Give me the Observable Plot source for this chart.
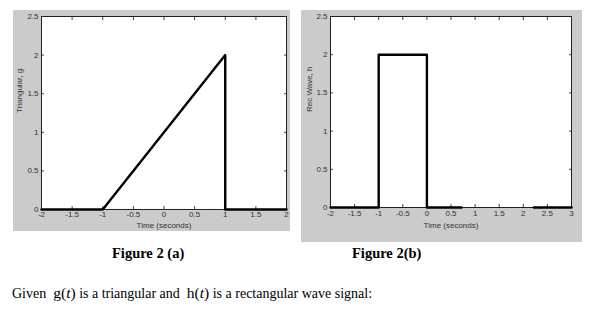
<!DOCTYPE html>
<html>
<head>
<meta charset="utf-8">
<script src="https://cdn.jsdelivr.net/npm/d3@7"></script>
<script src="https://cdn.jsdelivr.net/npm/@observablehq/plot@0.6"></script>
<style>
  html, body { margin: 0; padding: 0; background: white; width: 593px; height: 309px; overflow: hidden; }
  #a { position: absolute; left: 13px; top: 10px; }
  #b { position: absolute; left: 301px; top: 10px; }
  .cap { position: absolute; font-family: "Liberation Serif", "Times New Roman", serif; font-weight: bold; font-size: 14.5px; white-space: nowrap; }
  #txt { position: absolute; left: 12px; top: 284px; font-family: "Liberation Serif", "Times New Roman", serif; font-size: 14px; white-space: nowrap; }
  .m { font-size: 15.5px; }
</style>
</head>
<body>
<div id="a"></div>
<div id="b"></div>
<div class="cap" style="left:112px; top:245px;">Figure 2 (a)</div>
<div class="cap" style="left:352px; top:245px;">Figure 2(b)</div>
<div id="txt">Given&nbsp; <span class="m">g(<i>t</i>)</span> is a triangular and&nbsp; <span class="m">h(<i>t</i>)</span> is a rectangular wave signal:</div>
<script>
// Figure 2(a): triangular g(t)
const gT = [-2, -1, 1, 1, 2];
const gV = [0, 0, 2, 0, 0];
// Figure 2(b): rectangular h(t), drawn as two segments
const hT = [-2, -1, -1, 0, 0, 0.72, 2.22, 3];
const hV = [0, 0, 2, 2, 0, 0, 0, 0];
const hSeg = [0, 0, 0, 0, 0, 0, 1, 1];

const xTicksA = [-2, -1.5, -1, -0.5, 0, 0.5, 1, 1.5, 2];
const xTicksB = [-2, -1.5, -1, -0.5, 0, 0.5, 1, 1.5, 2, 2.5, 3];
const yTicks = [0, 0.5, 1, 1.5, 2, 2.5];

const gData = gT.map((t, i) => ({t, v: gV[i]}));
const hData = hT.map((t, i) => ({t, v: hV[i], s: hSeg[i]}));

const fmt = d => String(d);
const tickFont = {fontSize: 8, fill: "#333", fontFamily: "Arial, 'Liberation Sans', sans-serif"};

function chart({data, z, xDomain, xTicks, ylabel, width, height, ml, mr, mt, mb, xlabelDy, ylabelDx, xPad}) {
  return Plot.plot({
    width, height,
    marginLeft: ml, marginRight: mr, marginTop: mt, marginBottom: mb,
    style: {background: "#cbcbcb", fontFamily: "Arial, 'Liberation Sans', sans-serif", overflow: "visible"},
    x: {domain: xDomain},
    y: {domain: [0, 2.5]},
    marks: [
      Plot.frame({fill: "white", stroke: "none"}),
      Plot.axisX({ticks: xTicks, tickSize: -3, tickPadding: xPad, tickFormat: fmt, label: null, stroke: "#444", ...tickFont}),
      Plot.axisX({anchor: "top", ticks: xTicks, tickSize: -3, tickFormat: () => "", label: null, stroke: "#444"}),
      Plot.axisY({ticks: yTicks, tickSize: -3, tickPadding: 6, tickFormat: fmt, label: null, stroke: "#444", ...tickFont}),
      Plot.axisY({anchor: "right", ticks: yTicks, tickSize: -3, tickFormat: () => "", label: null, stroke: "#444"}),
      Plot.frame({stroke: "#222", strokeWidth: 1}),
      Plot.line(data, {x: "t", y: "v", z, stroke: "black", strokeWidth: 2.4}),
      Plot.text(["Time (seconds)"], {frameAnchor: "bottom", dy: xlabelDy, fontSize: 8, fill: "#333"}),
      Plot.text([ylabel], {frameAnchor: "left", dx: ylabelDx, rotate: -90, fontSize: 8, fill: "#333"})
    ]
  });
}

document.getElementById("a").append(chart({
  data: gData, z: null, xDomain: [-2, 2], xTicks: xTicksA, ylabel: "Triangular, g",
  width: 277, height: 221, ml: 28, mr: 4, mt: 6, mb: 22, xlabelDy: 18, ylabelDx: -22, xPad: 5
}));
document.getElementById("b").append(chart({
  data: hData, z: "s", xDomain: [-2, 3], xTicks: xTicksB, ylabel: "Rec Wave, h",
  width: 281, height: 232, ml: 29, mr: 11, mt: 6, mb: 35, xlabelDy: 20, ylabelDx: -21, xPad: 6
}));
</script>
</body>
</html>
